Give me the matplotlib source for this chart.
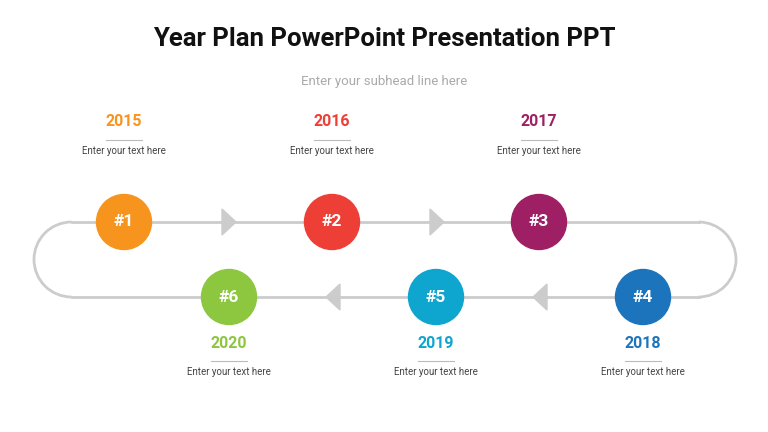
import matplotlib
matplotlib.use("Agg")
import matplotlib.pyplot as plt
from matplotlib.patches import Circle, Arc, Polygon

plt.rcParams['font.family'] = ['Roboto', 'DejaVu Sans']

years = ['2015', '2016', '2017', '2018', '2019', '2020']
steps = ['#1', '#2', '#3', '#4', '#5', '#6']
colors = ['#F7941D', '#EE3F37', '#9E1F63', '#1C75BC', '#0EA5CE', '#8DC63F']
caption = 'Enter your text here'

fig = plt.figure(figsize=(7.68, 4.32), dpi=100)
ax = fig.add_axes([0, 0, 1, 1])
ax.set_xlim(0, 768)
ax.set_ylim(432, 0)
ax.axis('off')

ax.text(384, 39, 'Year Plan PowerPoint Presentation PPT', ha='center', va='center',
        fontsize=18.5, fontweight='bold', color='#111111')
ax.text(384, 81, 'Enter your subhead line here', ha='center', va='center',
        fontsize=9.5, color='#AAAAAA')

# track
gray = '#CCCCCC'
y_top, y_bot = 222, 297
xl, xr = 71.5, 698.5
r = (y_bot - y_top) / 2
ax.plot([xl, xr], [y_top, y_top], color=gray, lw=2, zorder=1)
ax.plot([xl, xr], [y_bot, y_bot], color=gray, lw=2, zorder=1)
ax.add_patch(Arc((xl, (y_top + y_bot) / 2), 2 * r, 2 * r, theta1=90, theta2=270,
                 color=gray, lw=2, zorder=1))
ax.add_patch(Arc((xr, (y_top + y_bot) / 2), 2 * r, 2 * r, theta1=-90, theta2=90,
                 color=gray, lw=2, zorder=1))

# arrows
for x in (222, 430):
    ax.add_patch(Polygon([[x, y_top - 13], [x, y_top + 13], [x + 14, y_top]],
                         color=gray, zorder=2))
for x in (340, 547):
    ax.add_patch(Polygon([[x, y_bot - 13], [x, y_bot + 13], [x - 14, y_bot]],
                         color=gray, zorder=2))

xs_top = [124, 332, 539]
xs_bot = [643, 436, 229]
for i in range(6):
    top = i < 3
    x = xs_top[i] if top else xs_bot[i - 3]
    y = y_top if top else y_bot
    ax.add_patch(Circle((x, y), 27.5, color=colors[i], zorder=3))
    ax.text(x, y, steps[i], ha='center', va='center', fontsize=12.5,
            fontweight='bold', color='white', zorder=4)
    yy = 122 if top else 343
    ax.text(x, yy, years[i], ha='center', va='center', fontsize=11.5,
            fontweight='bold', color=colors[i])
    ax.plot([x - 18, x + 18], [yy + 18, yy + 18], color='#BBBBBB', lw=0.8)
    ax.text(x, yy + 29, caption, ha='center', va='center', fontsize=7,
            color='#444444')

fig.savefig('out.png', dpi=100)
